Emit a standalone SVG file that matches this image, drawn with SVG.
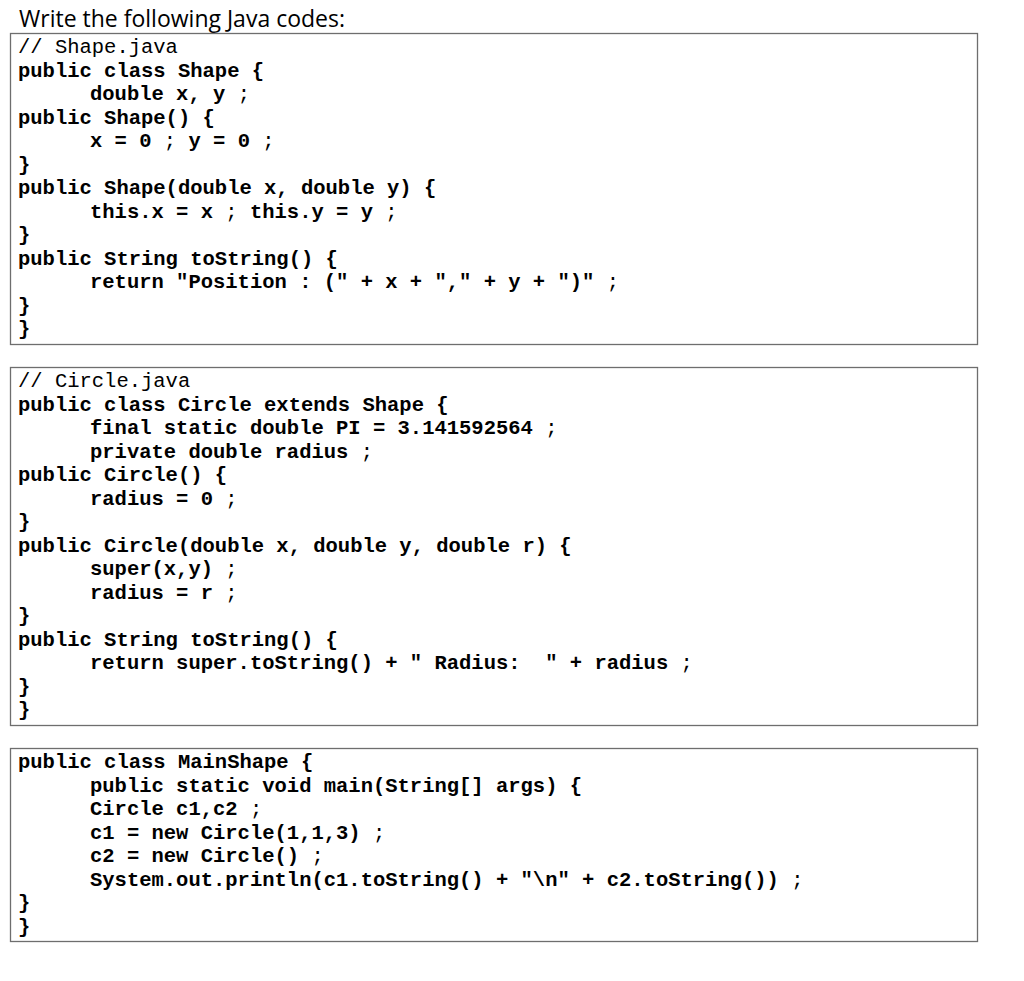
<svg xmlns="http://www.w3.org/2000/svg" width="1024" height="981" viewBox="0 0 1024 981">
<style>
.c{font-family:"Liberation Mono","Courier New",monospace;font-size:20.5px;font-weight:bold;fill:#000;white-space:pre}
.n{font-weight:normal}
.box{fill:#fff;stroke:#6e6e6e;stroke-width:1.3}
.t{font-family:"Segoe UI","Open Sans","Noto Sans",sans-serif;font-size:23px;fill:#000}
</style>
<rect width="1024" height="981" fill="#fff"/>
<text class="t" x="19" y="27">Write the following Java codes:</text>
<g id="shape">
<rect class="box" x="10.5" y="33.5" width="967" height="311"/>
<text class="c" xml:space="preserve"><tspan class="n" x="18" y="53">// Shape.java</tspan><tspan x="18" y="76.5">public class Shape {</tspan><tspan x="90" y="100">double x, y <tspan class="n">;</tspan></tspan><tspan x="18" y="123.5">public Shape() {</tspan><tspan x="90" y="147">x = 0 <tspan class="n">;</tspan> y = 0 <tspan class="n">;</tspan></tspan><tspan x="18" y="170.5">}</tspan><tspan x="18" y="194">public Shape(double x, double y) {</tspan><tspan x="90" y="217.5">this.x = x <tspan class="n">;</tspan> this.y = y <tspan class="n">;</tspan></tspan><tspan x="18" y="241">}</tspan><tspan x="18" y="264.5">public String toString() {</tspan><tspan x="90" y="288">return "Position : (" + x + "," + y + ")" <tspan class="n">;</tspan></tspan><tspan x="18" y="311.5">}</tspan><tspan x="18" y="335">}</tspan></text>
</g>
<g id="circle">
<rect class="box" x="10.5" y="367.5" width="967" height="358"/>
<text class="c" xml:space="preserve"><tspan class="n" x="18" y="387">// Circle.java</tspan><tspan x="18" y="410.5">public class Circle extends Shape {</tspan><tspan x="90" y="434">final static double PI = 3.141592564 <tspan class="n">;</tspan></tspan><tspan x="90" y="457.5">private double radius <tspan class="n">;</tspan></tspan><tspan x="18" y="481">public Circle() {</tspan><tspan x="90" y="504.5">radius = 0 <tspan class="n">;</tspan></tspan><tspan x="18" y="528">}</tspan><tspan x="18" y="551.5">public Circle(double x, double y, double r) {</tspan><tspan x="90" y="575">super(x,y) <tspan class="n">;</tspan></tspan><tspan x="90" y="598.5">radius = r <tspan class="n">;</tspan></tspan><tspan x="18" y="622">}</tspan><tspan x="18" y="645.5">public String toString() {</tspan><tspan x="90" y="669">return super.toString() + " Radius:  " + radius <tspan class="n">;</tspan></tspan><tspan x="18" y="692.5">}</tspan><tspan x="18" y="716">}</tspan></text>
</g>
<g id="main">
<rect class="box" x="10.5" y="748.5" width="967" height="193"/>
<text class="c" xml:space="preserve"><tspan x="18" y="768">public class MainShape {</tspan><tspan x="90" y="791.5">public static void main(String[] args) {</tspan><tspan x="90" y="815">Circle c1,c2 <tspan class="n">;</tspan></tspan><tspan x="90" y="838.5">c1 = new Circle(1,1,3) <tspan class="n">;</tspan></tspan><tspan x="90" y="862">c2 = new Circle() <tspan class="n">;</tspan></tspan><tspan x="90" y="885.5">System.out.println(c1.toString() + "\n" + c2.toString()) <tspan class="n">;</tspan></tspan><tspan x="18" y="909">}</tspan><tspan x="18" y="932.5">}</tspan></text>
</g>
</svg>
